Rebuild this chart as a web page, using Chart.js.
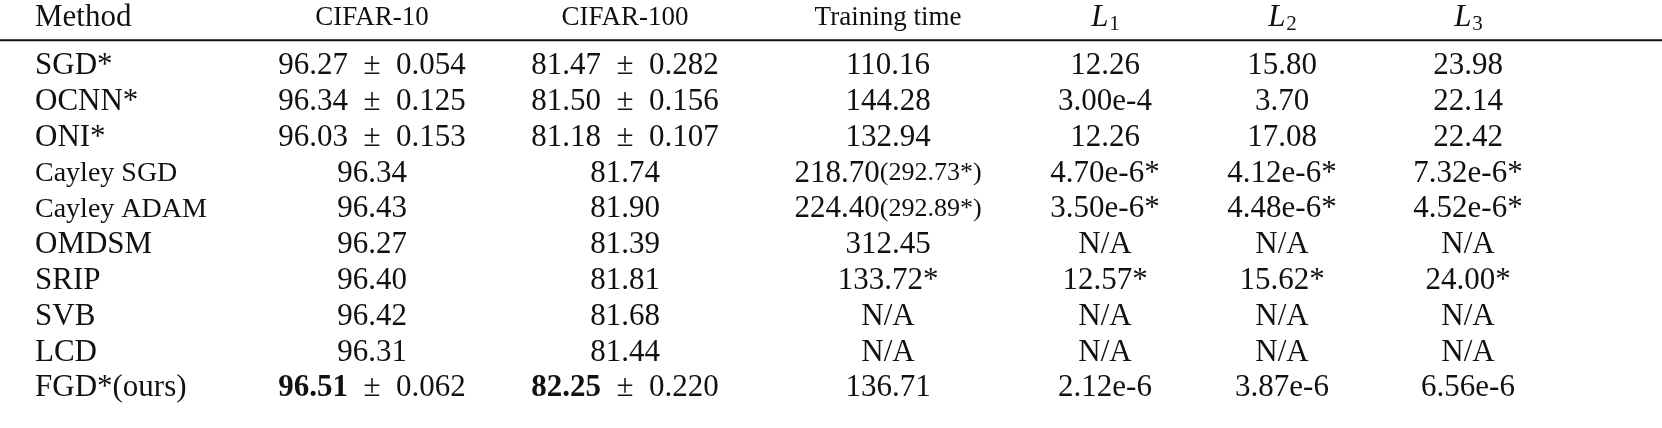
<!DOCTYPE html>
<html><head><meta charset="utf-8">
<script src="https://cdn.jsdelivr.net/npm/chart.js@4"></script>
<style>html,body{margin:0;padding:0;background:#fff}#w{width:1662px;height:428px}</style>
</head><body><div id="w"><canvas id="c"></canvas></div>
<script>
const headers = ['Method','CIFAR-10','CIFAR-100','Training time','L|1','L|2','L|3'];
const methods = ['SGD*','OCNN*','ONI*','Cayley SGD','Cayley ADAM','OMDSM','SRIP','SVB','LCD','FGD*(ours)'];
const cifar10 = ['96.27 ± 0.054','96.34 ± 0.125','96.03 ± 0.153','96.34','96.43','96.27','96.40','96.42','96.31','**96.51** ± 0.062'];
const cifar100 = ['81.47 ± 0.282','81.50 ± 0.156','81.18 ± 0.107','81.74','81.90','81.39','81.81','81.68','81.44','**82.25** ± 0.220'];
const trainTime = ['110.16','144.28','132.94','218.70(292.73*)','224.40(292.89*)','312.45','133.72*','N/A','N/A','136.71'];
const l1 = ['12.26','3.00e-4','12.26','4.70e-6*','3.50e-6*','N/A','12.57*','N/A','N/A','2.12e-6'];
const l2 = ['15.80','3.70','17.08','4.12e-6*','4.48e-6*','N/A','15.62*','N/A','N/A','3.87e-6'];
const l3 = ['23.98','22.14','22.42','7.32e-6*','4.52e-6*','N/A','24.00*','N/A','N/A','6.56e-6'];
const columns = [methods, cifar10, cifar100, trainTime, l1, l2, l3];

const colX = [35, 372, 625, 888, 1105, 1282, 1468];
const FONT = '"Liberation Serif", "DejaVu Serif", serif';
const SIZE = 31;

function segments(s, col, row){
  const small = (col===0 && (methods[row]||'').startsWith('Cayley'));
  const base = (small?28:SIZE)+'px '+FONT;
  const out = [];
  const m = s.match(/^\*\*(.+?)\*\*(.*)$/);
  if (m){ out.push({t:m[1],f:'bold '+base}); out.push({t:m[2].replace(' ± ','  ±  '),f:base}); return out; }
  const p = s.match(/^([^(]+)(\(.+\))$/);
  if (p && col>0){ out.push({t:p[1],f:base}); out.push({t:p[2],f:'26px '+FONT}); return out; }
  out.push({t:s.replace(' ± ','  ±  '),f:base}); return out;
}

const tablePlugin = {
  id:'table',
  afterDraw(chart){
    const ctx = chart.ctx, xs = chart.scales.x, ys = chart.scales.y;
    ctx.save(); ctx.fillStyle='#111'; ctx.textBaseline='middle';
    const drawSegs = (segs, col, y) => {
      let w=0; segs.forEach(s=>{ctx.font=s.f; s.w=ctx.measureText(s.t).width; w+=s.w;});
      let x = xs.getPixelForValue(colX[col]); if (col>0) x -= w/2;
      segs.forEach(s=>{ctx.font=s.f; ctx.textAlign='left'; ctx.fillText(s.t,x,y); x+=s.w;});
    };
    const hy = ys.getPixelForValue(-1.35);
    headers.forEach((h,c)=>{
      if (h.includes('|')){
        const [a,b]=h.split('|');
        ctx.font='italic 31px '+FONT; const wa=ctx.measureText(a).width;
        ctx.font='21px '+FONT; const wb=ctx.measureText(b).width;
        let x = xs.getPixelForValue(colX[c]) - (wa+wb)/2;
        ctx.font='italic 31px '+FONT; ctx.fillText(a,x,hy);
        ctx.font='21px '+FONT; ctx.fillText(b,x+wa+1,hy+7);
      } else {
        drawSegs([{t:h,f:(c===0?SIZE:27)+'px '+FONT}], c, hy);
      }
    });
    const ly = ys.getPixelForValue(-0.72);
    ctx.strokeStyle='#111'; ctx.lineWidth=2;
    ctx.beginPath(); ctx.moveTo(0,ly); ctx.lineTo(1662,ly); ctx.stroke();
    columns.forEach((arr,c)=>arr.forEach((v,r)=>{
      drawSegs(segments(v,c,r), c, ys.getPixelForValue(r));
    }));
    ctx.restore();
  }
};

new Chart(document.getElementById('c'), {
  type:'scatter',
  data:{datasets:[{data:methods.map((m,i)=>({x:colX[0],y:i})),pointRadius:0}]},
  options:{
    responsive:true, maintainAspectRatio:false, animation:false,
    layout:{padding:0},
    plugins:{legend:{display:false},tooltip:{enabled:false}},
    scales:{
      x:{type:'linear',min:0,max:1662,display:false},
      y:{type:'linear',reverse:true,min:-1.843,max:10.11,display:false}
    }
  },
  plugins:[tablePlugin]
});
</script></body></html>
